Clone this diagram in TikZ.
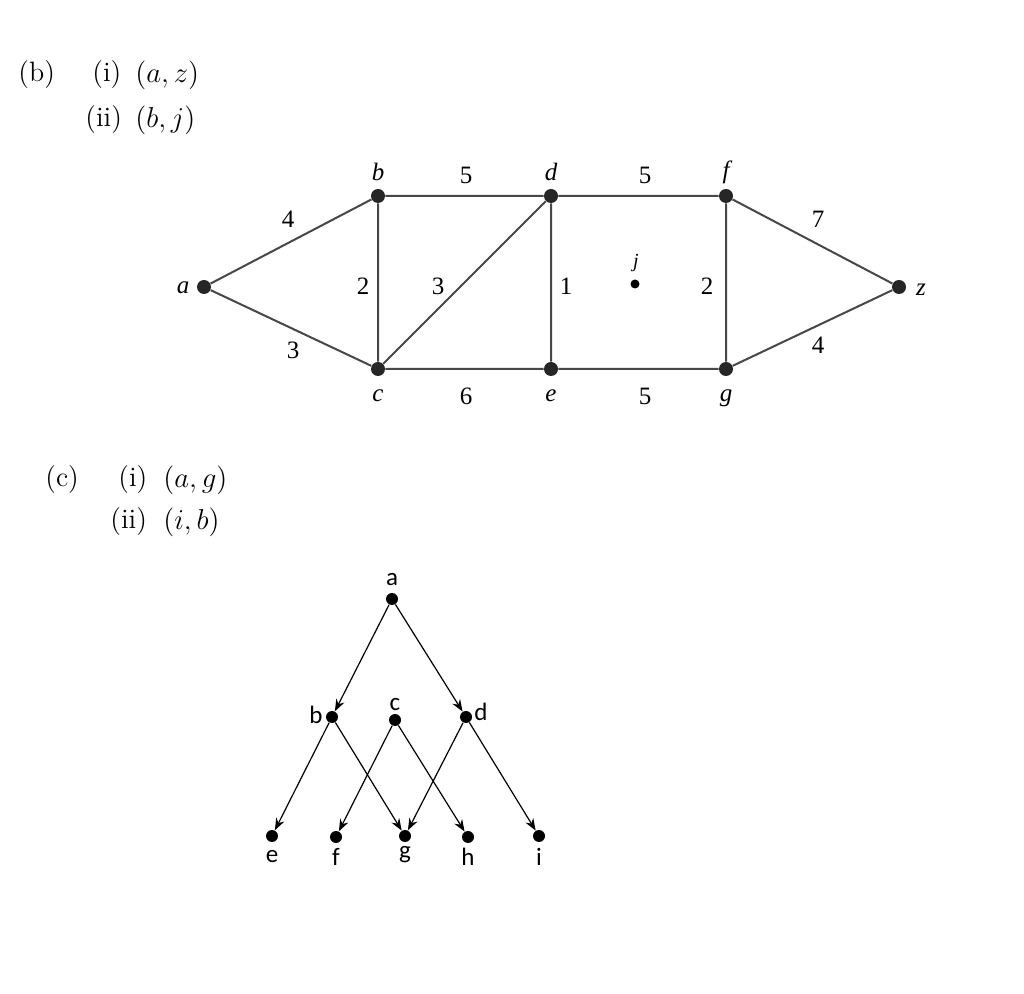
\documentclass[tikz,border=0pt]{standalone}
\usepackage{fontspec}
\newfontfamily\timesfont{Liberation Serif}
\newfontfamily\calfont{Carlito}
\usetikzlibrary{arrows.meta}
\usetikzlibrary{positioning}

\tikzset{
  vtx/.style={circle, fill=black!85, inner sep=0pt, minimum size=7pt},
  smallvtx/.style={circle, fill=black, inner sep=0pt, minimum size=4.5pt},
  lbl/.style={inner sep=0pt, font=\fontspec{Liberation Serif}\itshape\fontsize{12.5}{14}\selectfont},
  wt/.style={inner sep=0pt, font=\fontspec{Liberation Serif}\fontsize{12.5}{14}\selectfont},
  gedge/.style={draw=black!72, line width=1pt},
  tvtx/.style={circle, fill=black, inner sep=0pt, minimum size=6pt},
  tlbl/.style={inner sep=0pt, font=\calfont\fontsize{12.5}{14}\selectfont},
  tedge/.style={draw=black, line width=0.6pt, -{Stealth[length=6pt,width=4.5pt]}},
  txt/.style={anchor=west, inner sep=0pt, font=\fontsize{14}{16}\selectfont},
}

\begin{document}
\begin{tikzpicture}[x=0.5pt, y=-0.5pt]
    \useasboundingbox (0,0) rectangle (1024,994);
    % part (b)
    \node[txt] (pb) at (18,75) {(b)};
    \node[txt] (pbi) at (92,75) {(i)};
    \node[txt] (pbia) at (135,75) {$(a,z)$};
    \node[txt] (pbii) at (85,120) {(ii)};
    \node[txt] (pbiia) at (135,120) {$(b,j)$};

    \node[vtx] (a) at (204,287) {};
    \node[vtx] (b) at (378,196) {};
    \node[vtx] (d) at (551,196) {};
    \node[vtx] (f) at (726,196) {};
    \node[vtx] (c) at (378,369) {};
    \node[vtx] (e) at (551,369) {};
    \node[vtx] (g) at (726,369) {};
    \node[vtx] (z) at (899,287) {};
    \node[smallvtx] (j) at (635,284) {};

    \node[lbl] (la) at (183,288) {a};
    \node[lbl] (lb) at (378,172) {b};
    \node[lbl] (ld) at (551,172) {d};
    \node[lbl] (lf) at (726,172) {f};
    \node[lbl] (lz) at (921,290) {z};
    \node[lbl] (lc) at (378,396) {c};
    \node[lbl] (le) at (551,396) {e};
    \node[lbl] (lg) at (726,398) {g};
    \node[lbl, font=\fontspec{Liberation Serif}\itshape\fontsize{10}{12}\selectfont] (lj) at (636,263) {j};

    \path[gedge] (a) -- (b) (a) -- (c) (b) -- (d) (d) -- (f)
        (b) -- (c) (c) -- (d) (d) -- (e) (f) -- (g)
        (c) -- (e) (e) -- (g) (f) -- (z) (g) -- (z);

    \node[wt] (w1) at (288,219) {4};
    \node[wt] (w2) at (466,175) {5};
    \node[wt] (w3) at (645,175) {5};
    \node[wt] (w4) at (818,219) {7};
    \node[wt] (w5) at (363,286) {2};
    \node[wt] (w6) at (438,286) {3};
    \node[wt] (w7) at (566,286) {1};
    \node[wt] (w8) at (707,286) {2};
    \node[wt] (w9) at (293,350) {3};
    \node[wt] (w10) at (466,396) {6};
    \node[wt] (w11) at (645,396) {5};
    \node[wt] (w12) at (818,345) {4};

    % part (c)
    \node[txt] (pc) at (45,480) {(c)};
    \node[txt] (pci) at (118,480) {(i)};
    \node[txt] (pcia) at (163,480) {$(a,g)$};
    \node[txt] (pcii) at (110,522) {(ii)};
    \node[txt] (pciia) at (163,522) {$(i,b)$};

    \node[tvtx] (ta) at (392,599) {};
    \node[tvtx] (tb) at (332,717) {};
    \node[tvtx] (tc) at (395,720) {};
    \node[tvtx] (td) at (466,717) {};
    \node[tvtx] (te) at (272,836) {};
    \node[tvtx] (tf) at (336,837) {};
    \node[tvtx] (tg) at (405,836) {};
    \node[tvtx] (th) at (468,837) {};
    \node[tvtx] (ti) at (539,836) {};

    \node[tlbl] (lta) at (392,580) {a};
    \node[tlbl] (ltb) at (316,715) {b};
    \node[tlbl] (ltc) at (395,705) {c};
    \node[tlbl] (ltd) at (481,712) {d};
    \node[tlbl] (lte) at (272,857) {e};
    \node[tlbl] (ltf) at (336,857) {f};
    \node[tlbl] (ltg) at (405,855) {g};
    \node[tlbl] (lth) at (468,857) {h};
    \node[tlbl] (lti) at (539,857) {i};

    \path[tedge] (ta) edge (tb) (ta) edge (td)
        (tb) edge (te) (tb) edge (tg)
        (tc) edge (tf) (tc) edge (th)
        (td) edge (tg) (td) edge (ti);
\end{tikzpicture}
\end{document}
